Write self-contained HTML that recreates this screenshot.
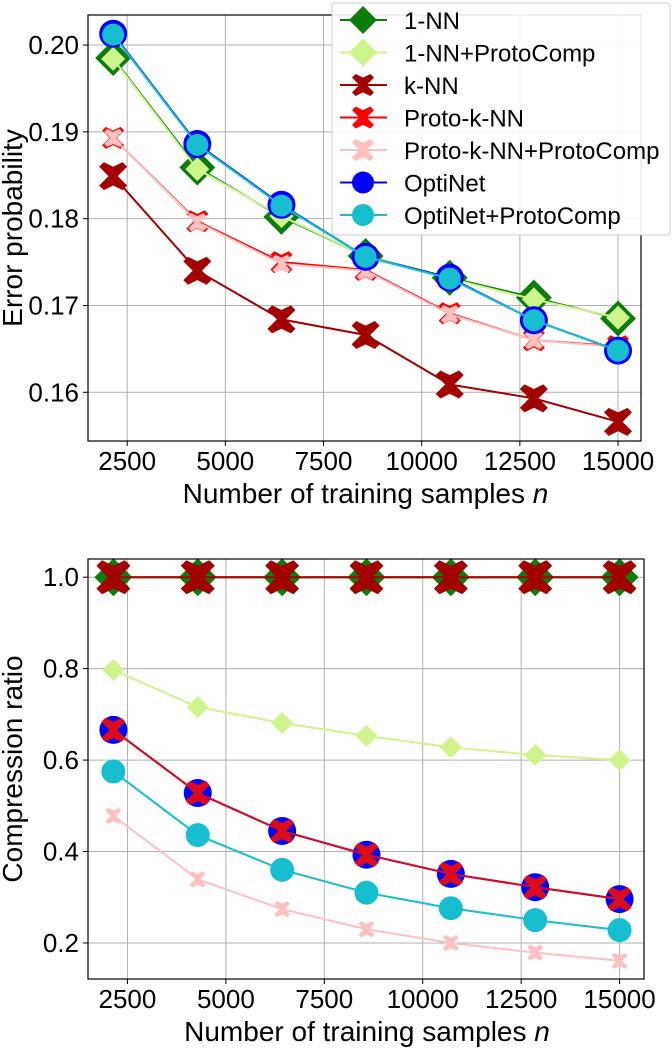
<!DOCTYPE html>
<html><head><meta charset="utf-8"><style>
html,body{margin:0;padding:0;background:#fff;}
svg text{font-family:"Liberation Sans",sans-serif;fill:#000;}
</style></head><body>
<svg id="fig" width="672" height="1048" viewBox="0 0 672 1048" xmlns="http://www.w3.org/2000/svg">
</svg>
<script>
const nValues = [2143, 4286, 6429, 8571, 10714, 12857, 15000];
const xTicks = [2500, 5000, 7500, 10000, 12500, 15000];
const errTicks = [0.16, 0.17, 0.18, 0.19, 0.20];
const errTickLabels = ["0.16", "0.17", "0.18", "0.19", "0.20"];
const crTicks = [0.2, 0.4, 0.6, 0.8, 1.0];
const crTickLabels = ["0.2", "0.4", "0.6", "0.8", "1.0"];

const err1NN = [0.1985, 0.1859, 0.1802, 0.1757, 0.1732, 0.1709, 0.1685];
const err1NNPC = [0.1984, 0.1857, 0.1803, 0.1757, 0.1731, 0.1707, 0.1686];
const errKNN = [0.1849, 0.1740, 0.1684, 0.1666, 0.1609, 0.1593, 0.1566];
const errProtoKNN = [0.1893, 0.1797, 0.1750, 0.1741, 0.1691, 0.1660, 0.1653];
const errProtoKNNPC = [0.1893, 0.1796, 0.1748, 0.1740, 0.1690, 0.1660, 0.1652];
const errOptiNet = [0.2013, 0.1886, 0.1816, 0.1756, 0.1732, 0.1683, 0.1648];
const errOptiNetPC = [0.2012, 0.1885, 0.1815, 0.1756, 0.1731, 0.1683, 0.1648];

const cr1NN = [1, 1, 1, 1, 1, 1, 1];
const cr1NNPC = [0.797, 0.716, 0.681, 0.653, 0.628, 0.611, 0.600];
const crKNN = [1, 1, 1, 1, 1, 1, 1];
const crProtoKNN = [0.666, 0.528, 0.445, 0.393, 0.351, 0.322, 0.296];
const crProtoKNNPC = [0.478, 0.339, 0.274, 0.230, 0.200, 0.179, 0.161];
const crOptiNet = [0.666, 0.528, 0.445, 0.393, 0.351, 0.322, 0.296];
const crOptiNetPC = [0.575, 0.436, 0.360, 0.310, 0.276, 0.250, 0.228];

const seriesNames = ["1-NN", "1-NN+ProtoComp", "k-NN", "Proto-k-NN", "Proto-k-NN+ProtoComp", "OptiNet", "OptiNet+ProtoComp"];

const NS = "http://www.w3.org/2000/svg";
const fig = document.getElementById("fig");
function mk(tag, attrs, parent) {
  const e = document.createElementNS(NS, tag);
  for (const k in attrs) e.setAttribute(k, attrs[k]);
  (parent || fig).appendChild(e);
  return e;
}
function markerShape(g, type, cx, cy, s, color) {
  let e;
  if (type === "D") {
    e = mk("polygon", {points: `${cx},${cy-s} ${cx+s},${cy} ${cx},${cy+s} ${cx-s},${cy}`, fill: color}, g);
  } else if (type === "o") {
    e = mk("circle", {cx: cx, cy: cy, r: s, fill: color}, g);
  } else {
    const a = s * 0.33, b = s;
    const pts = [[-b+a,-b],[0,-b+a],[b-a,-b],[b,-b+a],[a,0],[b,b-a],[b-a,b],[0,b-a],[-b+a,b],[-b,b-a],[-a,0],[-b,-b+a]];
    e = mk("polygon", {points: pts.map(p => (cx+p[0]) + "," + (cy+p[1])).join(" "), fill: color}, g);
  }
  return e;
}

function drawChart(cfg) {
  const X = v => cfg.x0 + (v - cfg.xmin) / (cfg.xmax - cfg.xmin) * (cfg.x1 - cfg.x0);
  const Y = v => cfg.y1 - (v - cfg.ymin) / (cfg.ymax - cfg.ymin) * (cfg.y1 - cfg.y0);
  const g = mk("g", {});
  
  
  const grid = mk("g", {}, g);
  
  
  xTicks.forEach(t => {
    mk("line", {x1: X(t), x2: X(t), y1: cfg.y0, y2: cfg.y1, stroke: "#b0b0b0", "stroke-width": 1}, grid);
    mk("line", {x1: X(t), x2: X(t), y1: cfg.y1, y2: cfg.y1 + 5, stroke: "#000", "stroke-width": 1}, g);
    const tx = mk("text", {x: X(t), y: cfg.y1 + 29, "text-anchor": "middle", "font-size": 26, "textLength": 0}, g);
    tx.removeAttribute("textLength");
    tx.textContent = t;
    
    
  });
  cfg.yTicks.forEach((t, i) => {
    mk("line", {x1: cfg.x0, x2: cfg.x1, y1: Y(t), y2: Y(t), stroke: "#b0b0b0", "stroke-width": 1}, grid);
    mk("line", {x1: cfg.x0 - 5, x2: cfg.x0, y1: Y(t), y2: Y(t), stroke: "#000", "stroke-width": 1}, g);
    const ty = mk("text", {x: cfg.x0 - 9, y: Y(t) + 9, "text-anchor": "end", "font-size": 26}, g);
    ty.textContent = cfg.yLabels[i];
    
    
  });
  cfg.series.forEach(s => {
    const sg = mk("g", {}, g);
    
    
    const pts = s.data.map((v, i) => X(nValues[i]) + "," + Y(v)).join(" ");
    const pl = mk("polyline", {points: pts, fill: "none", stroke: s.color, "stroke-width": 2}, sg);
    
    
    s.data.forEach((v, i) => {
      const m = markerShape(sg, s.m, X(nValues[i]), Y(v), s.size, s.color);
      
      
    });
  });
  const fr = mk("rect", {x: cfg.x0, y: cfg.y0, width: cfg.x1 - cfg.x0, height: cfg.y1 - cfg.y0, fill: "none", stroke: "#000", "stroke-width": 1.2}, g);
  
  
  const xt = mk("text", {x: (cfg.x0 + cfg.x1) / 2 + 1, y: cfg.y1 + 62, "text-anchor": "middle", "font-size": 28}, g);
  xt.innerHTML = 'Number of training samples <tspan font-style="italic">n</tspan>';
  
  
  const cy = (cfg.y0 + cfg.y1) / 2;
  const yt = mk("text", {x: 0, y: 0, "text-anchor": "middle", "font-size": 28, transform: `translate(22,${cy}) rotate(-90)`}, g);
  yt.textContent = cfg.yTitle;
  
  
}

const C = {nn: "#0b7d0b", nnpc: "#cdf58c", knn: "#a30000", pk: "#ff0000", pkpc: "#ffc0c0", opt: "#0000ff", optpc: "#17becf"};

drawChart({
  name: "error-probability-chart", x0: 88, x1: 641, y0: 15, y1: 441,
  xmin: 1502, xmax: 15585, ymin: 0.15439, ymax: 0.20346,
  yTicks: errTicks, yLabels: errTickLabels, yTitle: "Error probability",
  series: [
    {key: "1-nn", data: err1NN, color: C.nn, m: "D", size: 18},
    {key: "1-nn-protocomp", data: err1NNPC, color: C.nnpc, m: "D", size: 12},
    {key: "k-nn", data: errKNN, color: C.knn, m: "X", size: 14},
    {key: "proto-k-nn", data: errProtoKNN, color: C.pk, m: "X", size: 11},
    {key: "proto-k-nn-protocomp", data: errProtoKNNPC, color: C.pkpc, m: "X", size: 9},
    {key: "optinet", data: errOptiNet, color: C.opt, m: "o", size: 14},
    {key: "optinet-protocomp", data: errOptiNetPC, color: C.optpc, m: "o", size: 11}
  ]
});

drawChart({
  name: "compression-ratio-chart", x0: 88, x1: 644, y0: 559, y1: 979,
  xmin: 1498, xmax: 15620, ymin: 0.1212, ymax: 1.0398,
  yTicks: crTicks, yLabels: crTickLabels, yTitle: "Compression ratio",
  series: [
    {key: "1-nn", data: cr1NN, color: C.nn, m: "D", size: 19},
    {key: "1-nn-protocomp", data: cr1NNPC, color: C.nnpc, m: "D", size: 11},
    {key: "k-nn", data: crKNN, color: C.knn, m: "X", size: 17},
    {key: "optinet", data: crOptiNet, color: C.opt, m: "o", size: 14},
    {key: "proto-k-nn", data: crProtoKNN, color: "#dd0a1a", m: "X", size: 12},
    {key: "proto-k-nn-protocomp", data: crProtoKNNPC, color: C.pkpc, m: "X", size: 8},
    {key: "optinet-protocomp", data: crOptiNetPC, color: C.optpc, m: "o", size: 12}
  ]
});

// legend
const lg = mk("g", {});


mk("rect", {x: 332, y: 3, width: 338, height: 232, rx: 3, fill: "#fff", "fill-opacity": 0.9, stroke: "#cccccc", "stroke-width": 1}, lg);
const legMarks = [["D", C.nn, 14], ["D", C.nnpc, 14], ["X", C.knn, 11], ["X", C.pk, 11], ["X", C.pkpc, 11], ["o", C.opt, 11], ["o", C.optpc, 11]];
seriesNames.forEach((nm, i) => {
  const y = 20 + i * 32.5;
  const eg = mk("g", {}, lg);
  
  
  mk("line", {x1: 340, x2: 387, y1: y, y2: y, stroke: legMarks[i][1], "stroke-width": 2}, eg);
  markerShape(eg, legMarks[i][0], 363, y, legMarks[i][2], legMarks[i][1]);
  const t = mk("text", {x: 404, y: y + 9, "font-size": 24}, eg);
  t.textContent = nm;
});
</script>
</body></html>
